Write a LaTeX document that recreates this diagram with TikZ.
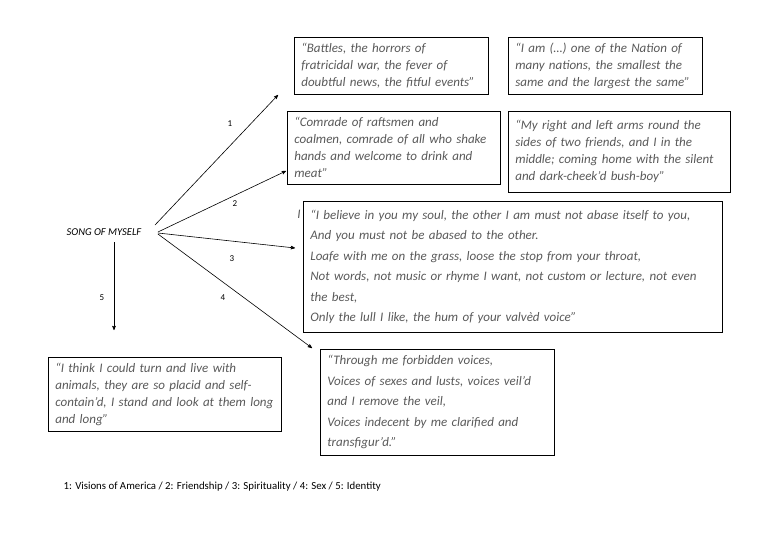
\documentclass[tikz,border=0pt]{standalone}
\usepackage{fontspec}
\setmainfont{Carlito}
\usepackage{xcolor}
\usetikzlibrary{arrows}
\definecolor{quotegray}{HTML}{595959}
\tikzset{
	quote box/.style={draw=black,line width=0.7pt,text=quotegray,align=left,anchor=north west,
		font=\fontsize{13}{17}\selectfont\itshape,inner xsep=7pt,inner ysep=3pt},
	wide box/.style={quote box,font=\fontsize{13}{20.5}\selectfont\itshape},
	poem node/.style={font=\fontsize{10.5}{12}\selectfont\itshape},
	num label/.style={font=\fontsize{9}{10}\selectfont},
	legend/.style={font=\fontsize{10.8}{12}\selectfont,anchor=west}
}

\begin{document}
\begin{tikzpicture}[x=1pt,y=-1pt,->,>=stealth',line width=0.6pt]
		\useasboundingbox (0,0) rectangle (768,543);
		\node [poem node] (poem) at (104,232) {SONG OF MYSELF};
		\node [quote box,text width=180pt,minimum height=57pt] (battles) at (294,37)
			{“Battles, the horrors of\\fratricidal war, the fever of\\doubtful news, the fitful events”};
		\node [quote box,text width=180pt,minimum height=57pt] (nation) at (508,37)
			{“I am (…) one of the Nation of\\many nations, the smallest the\\same and the largest the same”};
		\node [quote box,text width=199pt,minimum height=73pt] (comrade) at (287,111)
			{“Comrade of raftsmen and\\coalmen, comrade of all who shake\\hands and welcome to drink and\\meat”};
		\node [quote box,text width=208pt,minimum height=81pt] (arms) at (508,111)
			{“My right and left arms round the\\sides of two friends, and I in the\\middle; coming home with the silent\\and dark-cheek'd bush-boy”};
		\node [wide box,text width=405pt,minimum height=131pt] (soul) at (303,201)
			{“I believe in you my soul, the other I am must not abase itself to you,\\And you must not be abased to the other.\\Loafe with me on the grass, loose the stop from your throat,\\Not words, not music or rhyme I want, not custom or lecture, not even\\the best,\\Only the lull I like, the hum of your valvèd voice”};
		\node [wide box,text width=220pt,minimum height=106pt] (voices) at (320,349)
			{“Through me forbidden voices,\\Voices of sexes and lusts, voices veil'd\\and I remove\ the veil,\\Voices indecent by me\ clarified and\\transfigur'd.”};
		\node [quote box,text width=219pt,minimum height=74pt] (animals) at (48,357)
			{“I think I could turn and live with\\animals, they are so placid and self-\\contain'd, I stand and look at them long\\and long”};
		\node [text=quotegray,font=\fontsize{13}{15}\selectfont\itshape] (stray) at (299,214) {I};
		\coordinate (end1) at (278,95);
		\coordinate (end2) at (286,171);
		\coordinate (end3) at (295,248);
		\coordinate (end4) at (312,348);
		\coordinate (end5) at (114,330);
		\draw (155,225) -- (end1);
		\draw (poem.east) ++(13,0) -- (end2);
		\draw (poem.east) ++(13,1) -- (end3);
		\draw (poem.east) ++(13,2) -- (end4);
		\draw (114,242) -- (end5);
		\node [num label] (n1) at (230,124) {1};
		\node [num label] (n2) at (235,204) {2};
		\node [num label] (n3) at (232,259) {3};
		\node [num label] (n4) at (223,298) {4};
		\node [num label] (n5) at (102,298) {5};
		\node [legend] (key) at (60,487) {1: Visions of America / 2: Friendship / 3: Spirituality / 4: Sex / 5: Identity};
	\end{tikzpicture}
\end{document}
